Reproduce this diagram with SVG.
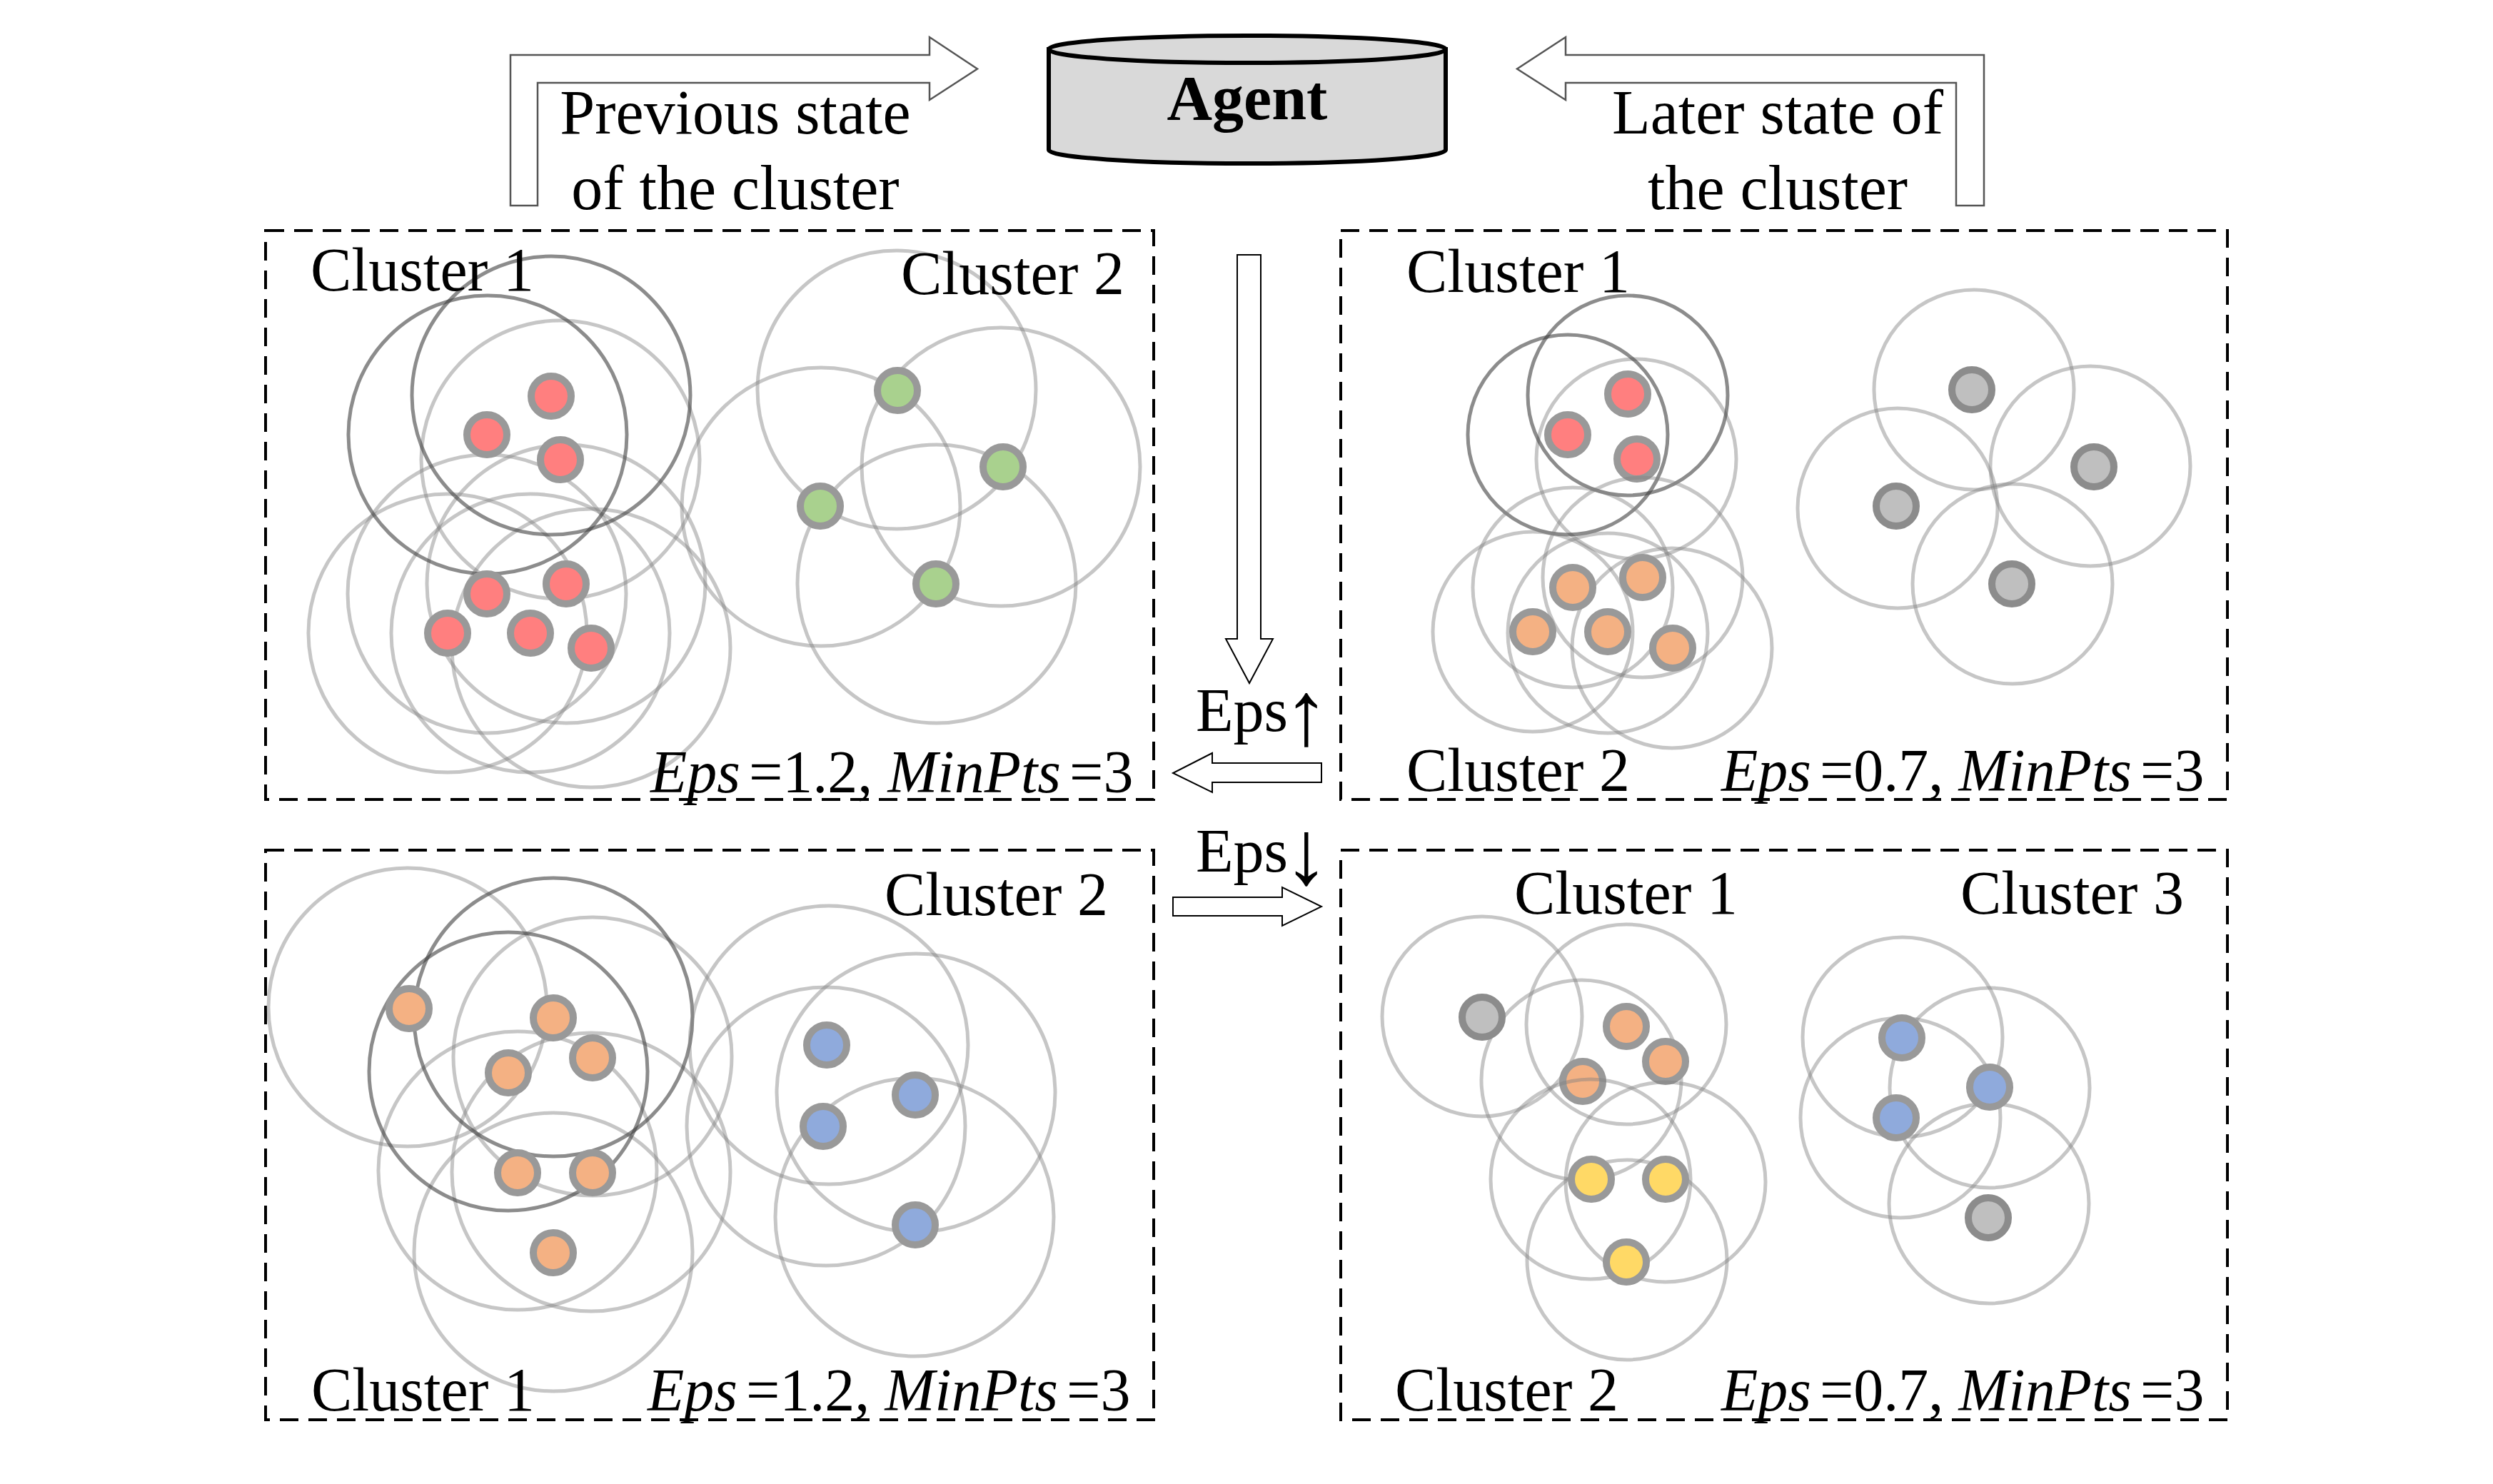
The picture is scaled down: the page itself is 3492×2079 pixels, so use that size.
<svg xmlns="http://www.w3.org/2000/svg" width="3492" height="2079" viewBox="0 0 3492 2079">
<style>
text{font-family:"Liberation Serif","Times New Roman",serif;fill:#000}
.lbl{font-size:86px}
.hdr{font-size:88px;text-anchor:middle}
.par{font-size:84px}
.it{font-style:italic}
.ar{font-size:128px}
.panel{fill:none;stroke:#000;stroke-width:4;stroke-dasharray:26 14}
.lc{fill:none;stroke:#808080;stroke-opacity:0.45;stroke-width:5}
.dc{fill:none;stroke:#404040;stroke-opacity:0.6;stroke-width:5}
.dot{stroke:#999;stroke-width:10}
.red{fill:#FF7F7F}.grn{fill:#A9D18E}.org{fill:#F4B183}.blu{fill:#8FAADC}.yel{fill:#FFD966}.gry{fill:#BFBFBF;stroke:#8c8c8c}
.barrow{fill:#fff;stroke:#555;stroke-width:2.5}
.arrow{fill:#fff;stroke:#000;stroke-width:2}
</style>
<rect width="3492" height="2079" fill="#fff"/>

<g id="agent">
  <path d="M1469,69 L1469,210 A278,19 0 0,0 2025,210 L2025,69 Z" fill="#d9d9d9" stroke="#000" stroke-width="6"/>
  <ellipse cx="1747" cy="69" rx="278" ry="19" fill="#d9d9d9" stroke="#000" stroke-width="6"/>
  <text x="1747" y="167" font-size="88" font-weight="bold" text-anchor="middle">Agent</text>
</g>

<g id="connectors">
  <path class="barrow" d="M715,288 L715,77 L1302,77 L1302,52 L1369,96.5 L1302,140 L1302,116 L753,116 L753,288 Z"/>
  <path class="barrow" d="M2779,288 L2779,77 L2193,77 L2193,52 L2125,96.5 L2193,140 L2193,116 L2740,116 L2740,288 Z"/>
  <path class="arrow" d="M1733,357 L1766,357 L1766,895 L1783,895 L1750,957 L1717,895 L1733,895 Z"/>
  <path class="arrow" d="M1851,1069 L1698,1069 L1698,1055 L1643,1083 L1698,1110 L1698,1096 L1851,1096 Z"/>
  <path class="arrow" d="M1643,1257 L1796,1257 L1796,1243 L1851,1270 L1796,1297 L1796,1283 L1643,1283 Z"/>
  <text class="lbl" x="1675" y="1024">Eps<tspan class="ar" dx="-6" dy="19">↑</tspan></text>
  <text class="lbl" x="1675" y="1221">Eps<tspan class="ar" dx="-6" dy="17">↓</tspan></text>
</g>

<g id="label-previous">
  <text class="hdr" x="1030" y="187">Previous state</text>
  <text class="hdr" x="1030" y="293">of the cluster</text>
</g>
<g id="label-later">
  <text class="hdr" x="2490" y="187">Later state of</text>
  <text class="hdr" x="2490" y="293">the cluster</text>
</g>

<g id="panel-top-left">
  <rect class="panel" x="372" y="323" width="1244" height="797"/>
  <g id="tl-cluster1">
    <circle class="lc" cx="785" cy="644" r="195"/>
    <circle class="lc" cx="682" cy="832" r="195"/>
    <circle class="lc" cx="793" cy="818" r="195"/>
    <circle class="lc" cx="627" cy="887" r="195"/>
    <circle class="lc" cx="743" cy="887" r="195"/>
    <circle class="lc" cx="828" cy="908" r="195"/>
    <circle class="dc" cx="683" cy="609" r="195"/>
    <circle class="dc" cx="772" cy="554" r="195"/>
    <circle class="dot red" cx="772" cy="555" r="28"/>
    <circle class="dot red" cx="682" cy="609" r="28"/>
    <circle class="dot red" cx="785" cy="644" r="28"/>
    <circle class="dot red" cx="682" cy="832" r="28"/>
    <circle class="dot red" cx="793" cy="818" r="28"/>
    <circle class="dot red" cx="627" cy="887" r="28"/>
    <circle class="dot red" cx="743" cy="887" r="28"/>
    <circle class="dot red" cx="828" cy="908" r="28"/>
  </g>
  <g id="tl-cluster2">
    <circle class="lc" cx="1256" cy="546" r="195"/>
    <circle class="lc" cx="1402" cy="654" r="195"/>
    <circle class="lc" cx="1150" cy="710" r="195"/>
    <circle class="lc" cx="1312" cy="818" r="195"/>
    <circle class="dot grn" cx="1257" cy="547" r="28"/>
    <circle class="dot grn" cx="1405" cy="654" r="28"/>
    <circle class="dot grn" cx="1149" cy="709" r="28"/>
    <circle class="dot grn" cx="1311" cy="818" r="28"/>
  </g>
  <text class="lbl" x="435" y="407">Cluster 1</text>
  <text class="lbl" x="1262" y="412">Cluster 2</text>
  <text class="par" x="911" y="1110"><tspan class="it">Eps</tspan><tspan dx="12">=1.2, </tspan><tspan class="it">MinPts</tspan><tspan dx="12">=3</tspan></text>
</g>

<g id="panel-top-right">
  <rect class="panel" x="1878" y="323" width="1242" height="797"/>
  <g id="tr-cluster1">
    <circle class="lc" cx="2292" cy="643" r="140"/>
    <circle class="dc" cx="2196" cy="609" r="140"/>
    <circle class="dc" cx="2280" cy="554" r="140"/>
    <circle class="dot red" cx="2280" cy="552" r="28"/>
    <circle class="dot red" cx="2196" cy="609" r="28"/>
    <circle class="dot red" cx="2293" cy="643" r="28"/>
  </g>
  <g id="tr-cluster2">
    <circle class="lc" cx="2203" cy="823" r="140"/>
    <circle class="lc" cx="2301" cy="809" r="140"/>
    <circle class="lc" cx="2147" cy="885" r="140"/>
    <circle class="lc" cx="2252" cy="887" r="140"/>
    <circle class="lc" cx="2342" cy="908" r="140"/>
    <circle class="dot org" cx="2203" cy="823" r="28"/>
    <circle class="dot org" cx="2301" cy="809" r="28"/>
    <circle class="dot org" cx="2147" cy="885" r="28"/>
    <circle class="dot org" cx="2252" cy="885" r="28"/>
    <circle class="dot org" cx="2343" cy="908" r="28"/>
  </g>
  <g id="tr-noise">
    <circle class="lc" cx="2765" cy="546" r="140"/>
    <circle class="lc" cx="2928" cy="653" r="140"/>
    <circle class="lc" cx="2658" cy="712" r="140"/>
    <circle class="lc" cx="2819" cy="818" r="140"/>
    <circle class="dot gry" cx="2762" cy="546" r="28"/>
    <circle class="dot gry" cx="2933" cy="654" r="28"/>
    <circle class="dot gry" cx="2656" cy="709" r="28"/>
    <circle class="dot gry" cx="2818" cy="818" r="28"/>
  </g>
  <text class="lbl" x="1970" y="409">Cluster 1</text>
  <text class="lbl" x="1970" y="1108">Cluster 2</text>
  <text class="par" x="2411" y="1108"><tspan class="it">Eps</tspan><tspan dx="12">=0.7, </tspan><tspan class="it">MinPts</tspan><tspan dx="12">=3</tspan></text>
</g>

<g id="panel-bottom-left">
  <rect class="panel" x="372" y="1191" width="1244" height="798"/>
  <g id="bl-cluster1">
    <circle class="lc" cx="571" cy="1411" r="195"/>
    <circle class="lc" cx="830" cy="1480" r="195"/>
    <circle class="lc" cx="725" cy="1640" r="195"/>
    <circle class="lc" cx="828" cy="1642" r="195"/>
    <circle class="lc" cx="775" cy="1754" r="195"/>
    <circle class="dc" cx="712" cy="1501" r="195"/>
    <circle class="dc" cx="775" cy="1425" r="195"/>
    <circle class="dot org" cx="573" cy="1413" r="28"/>
    <circle class="dot org" cx="775" cy="1426" r="28"/>
    <circle class="dot org" cx="830" cy="1482" r="28"/>
    <circle class="dot org" cx="712" cy="1503" r="28"/>
    <circle class="dot org" cx="725" cy="1643" r="28"/>
    <circle class="dot org" cx="830" cy="1643" r="28"/>
    <circle class="dot org" cx="775" cy="1755" r="28"/>
  </g>
  <g id="bl-cluster2">
    <circle class="lc" cx="1161" cy="1464" r="195"/>
    <circle class="lc" cx="1283" cy="1531" r="195"/>
    <circle class="lc" cx="1157" cy="1578" r="195"/>
    <circle class="lc" cx="1281" cy="1705" r="195"/>
    <circle class="dot blu" cx="1158" cy="1464" r="28"/>
    <circle class="dot blu" cx="1282" cy="1534" r="28"/>
    <circle class="dot blu" cx="1153" cy="1578" r="28"/>
    <circle class="dot blu" cx="1282" cy="1716" r="28"/>
  </g>
  <text class="lbl" x="1239" y="1282">Cluster 2</text>
  <text class="lbl" x="436" y="1976">Cluster 1</text>
  <text class="par" x="907" y="1976"><tspan class="it">Eps</tspan><tspan dx="12">=1.2, </tspan><tspan class="it">MinPts</tspan><tspan dx="12">=3</tspan></text>
</g>

<g id="panel-bottom-right">
  <rect class="panel" x="1878" y="1191" width="1242" height="798"/>
  <g id="br-cluster1">
    <circle class="lc" cx="2076" cy="1424" r="140"/>
    <circle class="lc" cx="2278" cy="1435" r="140"/>
    <circle class="lc" cx="2215" cy="1513" r="140"/>
    <circle class="dot gry" cx="2076" cy="1425" r="28"/>
    <circle class="dot org" cx="2278" cy="1438" r="28"/>
    <circle class="dot org" cx="2333" cy="1487" r="28"/>
    <circle class="dot org" cx="2217" cy="1515" r="28"/>
  </g>
  <g id="br-cluster2">
    <circle class="lc" cx="2228" cy="1652" r="140"/>
    <circle class="lc" cx="2333" cy="1656" r="140"/>
    <circle class="lc" cx="2279" cy="1765" r="140"/>
    <circle class="dot yel" cx="2229" cy="1652" r="28"/>
    <circle class="dot yel" cx="2333" cy="1652" r="28"/>
    <circle class="dot yel" cx="2278" cy="1768" r="28"/>
  </g>
  <g id="br-cluster3">
    <circle class="lc" cx="2665" cy="1453" r="140"/>
    <circle class="lc" cx="2787" cy="1524" r="140"/>
    <circle class="lc" cx="2662" cy="1566" r="140"/>
    <circle class="lc" cx="2786" cy="1686" r="140"/>
    <circle class="dot blu" cx="2664" cy="1454" r="28"/>
    <circle class="dot blu" cx="2787" cy="1523" r="28"/>
    <circle class="dot blu" cx="2656" cy="1566" r="28"/>
    <circle class="dot gry" cx="2785" cy="1706" r="28"/>
  </g>
  <text class="lbl" x="2121" y="1280">Cluster 1</text>
  <text class="lbl" x="2746" y="1280">Cluster 3</text>
  <text class="lbl" x="1954" y="1976">Cluster 2</text>
  <text class="par" x="2411" y="1976"><tspan class="it">Eps</tspan><tspan dx="12">=0.7, </tspan><tspan class="it">MinPts</tspan><tspan dx="12">=3</tspan></text>
</g>
</svg>
